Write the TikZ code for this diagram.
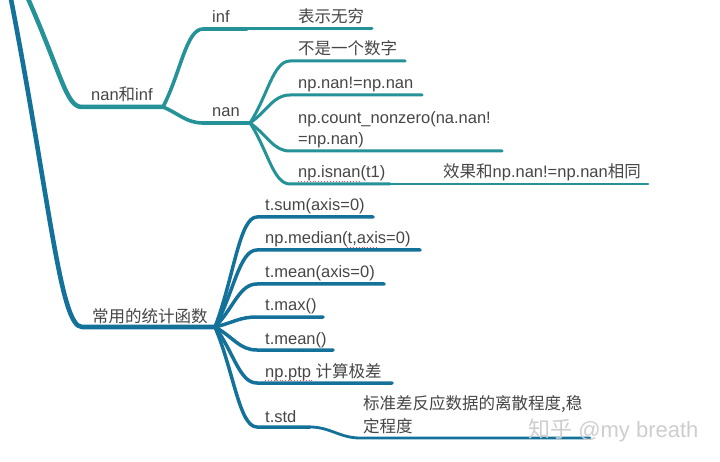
\documentclass[tikz,border=0pt]{standalone}
\usepackage{fontspec}
\usetikzlibrary{calc}
\setmainfont{Liberation Sans}
\newfontfamily\cjk{Noto Sans CJK SC}
\definecolor{tealc}{RGB}{36,146,151}
\definecolor{bluec}{RGB}{20,114,154}
\definecolor{txt}{RGB}{70,70,70}
\definecolor{wm}{RGB}{206,206,206}
\begin{document}
\begin{tikzpicture}[x=1pt,y=-1pt,
  lbl/.style={anchor=base west,inner sep=0pt,text=txt,font=\fontsize{16.5}{20}\selectfont},
  tmain/.style={draw=tealc,line width=4.5pt,line cap=round,line join=round},
  tsub/.style={draw=tealc,line width=3.6pt,line cap=round,line join=round},
  tleaf/.style={draw=tealc,line width=3pt,line cap=round,line join=round},
  bmain/.style={draw=bluec,line width=4.6pt,line cap=round,line join=round},
  bsub/.style={draw=bluec,line width=3.5pt,line cap=round,line join=round},
  bleaf/.style={draw=bluec,line width=2.8pt,line cap=round,line join=round},
  spell/.style={draw=red!70,line width=0.9pt,dotted},
  fan/.style={to path={let \p1=(\tikztostart), \p2=(\tikztotarget) in
     .. controls ($(\p1)!#1!(\p2)$) and ({\x2-0.42*(\x2-\x1)},\y2) .. (\tikztotarget)}},
  fan/.default=0.45]
\useasboundingbox (0,0) rectangle (720,462);
\fill[white] (0,0) rectangle (720,462);

% ---------- teal branch: nan and inf ----------
\coordinate (tA) at (26,-6);
\coordinate (niS) at (82,107);
\coordinate (niE) at (163,107);
\node[lbl] (ni) at (91,101) {nan{\cjk 和}inf};
\draw[tmain] (tA) .. controls (62,75) and (66,107) .. (niS) -- (niE);

% inf
\coordinate (infS) at (203,29);
\coordinate (infE) at (247,29);
\coordinate (wqE) at (372,29);
\node[lbl] (inf) at (212,23) {inf};
\node[lbl] (wq) at (298,23) {\cjk 表示无穷};
\draw[tsub] (niE) to[fan] (infS) -- (infE);
\draw[tleaf] (infE) -- (wqE);

% nan
\coordinate (nanS) at (203,123);
\coordinate (nanE) at (250,123);
\node[lbl] (nan) at (212,117) {nan};
\draw[tsub] (niE) to[out=-22,in=180] (nanS) -- (nanE);

\coordinate (bsS) at (290,61);  \coordinate (bsE) at (405,61);
\coordinate (neS) at (290,95);  \coordinate (neE) at (422,95);
\coordinate (czS) at (290,151); \coordinate (czE) at (502,151);
\coordinate (isS) at (290,184); \coordinate (isE) at (390,184);
\coordinate (xgE) at (648,184);

\node[lbl] (bs) at (298,55) {\cjk 不是一个数字};
\node[lbl] (ne) at (298,89) {np.nan!=np.nan};
\node[lbl] (cz1) at (298,124) {np.count\_nonzero(na.nan!};
\node[lbl] (cz2) at (298,145) {=np.nan)};
\node[lbl] (is) at (298,178) {np.isnan(t1)};
\node[lbl] (xg) at (443,178) {{\cjk 效果和}np.nan!=np.nan{\cjk 相同}};

\draw[tleaf] (nanE) to[fan] (bsS) -- (bsE);
\draw[tleaf] (nanE) to[fan] (neS) -- (neE);
\draw[tleaf] (nanE) to[fan] (czS) -- (czE);
\draw[tleaf] (nanE) to[fan] (isS) -- (isE);
\draw[tleaf, line width=2.6pt] (isE) -- (xgE);
\draw[spell] (298,181) -- (360,181);

% ---------- blue branch: statistics ----------
\coordinate (bA) at (10,-6);
\coordinate (stS) at (82,327);
\coordinate (stE) at (215,327);
\node[lbl] (st) at (92,323) {\cjk 常用的统计函数};
\draw[bmain] (bA) .. controls (50,200) and (60,327) .. (stS) -- (stE);

\coordinate (suS) at (257,217); \coordinate (suE) at (373,217);
\coordinate (mdS) at (257,250); \coordinate (mdE) at (420,250);
\coordinate (maS) at (257,284); \coordinate (maE) at (384,284);
\coordinate (mxS) at (257,317); \coordinate (mxE) at (323,317);
\coordinate (mnS) at (257,350); \coordinate (mnE) at (333,350);
\coordinate (ptS) at (257,383); \coordinate (ptE) at (392,383);
\coordinate (sdS) at (257,427); \coordinate (sdE) at (310,427);
\coordinate (bzS) at (360,438); \coordinate (bzE) at (590,438);

\node[lbl] (su) at (265,211) {t.sum(axis=0)};
\node[lbl] (md) at (265,244) {np.median(t,axis=0)};
\node[lbl] (ma) at (265,278) {t.mean(axis=0)};
\node[lbl] (mx) at (265,311) {t.max()};
\node[lbl] (mn) at (265,344) {t.mean()};
\node[lbl] (pt) at (265,377) {np.ptp {\cjk 计算极差}};
\node[lbl] (sd) at (265,422) {t.std};
\node[lbl] (bz1) at (363,409) {\cjk 标准差反应数据的离散程度,稳};
\node[lbl] (bz2) at (363,432) {\cjk 定程度};

\draw[bsub] (stE) to[fan] (suS) -- (suE);
\draw[bsub] (stE) to[fan] (mdS) -- (mdE);
\draw[bsub] (stE) to[fan] (maS) -- (maE);
\draw[bsub] (stE) to[fan] (mxS) -- (mxE);
\draw[bsub] (stE) to[fan] (mnS) -- (mnE);
\draw[bsub] (stE) to[fan] (ptS) -- (ptE);
\draw[bsub] (stE) to[fan] (sdS) -- (sdE);
\draw[bleaf] (sdE) to[out=0,in=180] (bzS) -- (bzE);

\draw[spell] (347,247) -- (378,247);
\draw[spell] (265,380) -- (313,380);

% watermark
\node[anchor=base west,inner sep=0pt,text=wm,font=\fontsize{22}{24}\selectfont] (wmk) at (528,437) {{\cjk 知乎} @my breath};
\end{tikzpicture}
\end{document}
